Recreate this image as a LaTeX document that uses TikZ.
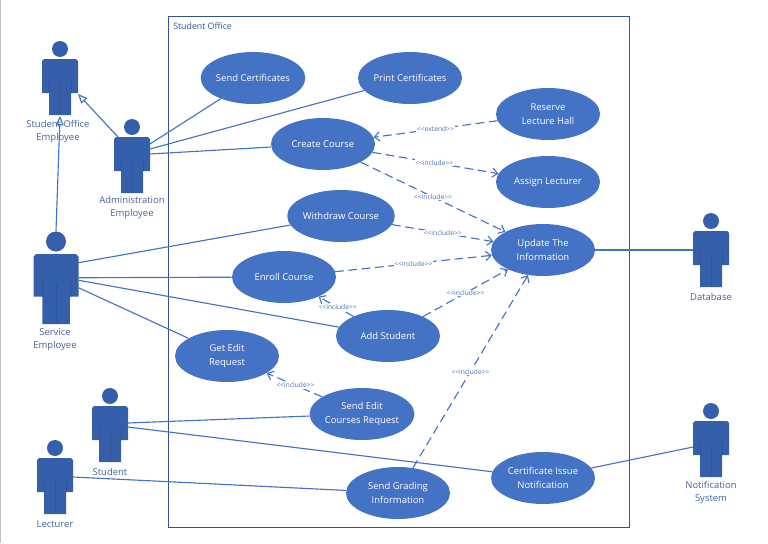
\documentclass[tikz,border=0pt]{standalone}
\usepackage{fontspec}
\setmainfont{Open Sans}
\usetikzlibrary{shapes.geometric, arrows.meta}
\definecolor{usecase}{HTML}{4472C4}
\definecolor{actorblue}{HTML}{355FAB}
\definecolor{actorseam}{HTML}{2F5597}
\definecolor{labelblue}{HTML}{44609C}
\newcommand\incl{<{}<include>{}>}
\newcommand\extd{<{}<extend>{}>}

\begin{document}
\begin{tikzpicture}[
    x=.75pt, y=-.75pt,
    actor/.pic = {
        \fill [actorblue] (0, -10) circle (8);
        \fill [actorblue]
            (-16, 0) -- (16, 0) -- (18, 2) -- (18, 34) -- (11, 34)
            -- (11, 56) -- (-11, 56) -- (-11, 34) -- (-18, 34) -- (-18, 2) -- cycle;
        \draw [actorseam, line width=.3pt] (0, 24) -- (0, 56);
        \draw [actorseam, line width=.3pt] (-11, 20) -- (-11, 34);
        \draw [actorseam, line width=.3pt] (11, 20) -- (11, 34);
        \foreach \i/\d in {1/7, 2/12, 3/17, 4/19, 5/21, 6/26, 7/27} {
            \coordinate (-r\i) at (18, \d);
        }
        \coordinate (-l) at (-18, 19);
        \coordinate (-t) at (0, -18);
        \coordinate (-b) at (0, 57);
        \coordinate (-s) at (-14, 0);
    },
    usecase/.style = {
        ellipse,
        fill=usecase,
        text=white,
        inner sep=0pt,
        minimum width=78pt,
        minimum height=39pt,
        align=center,
        font=\fontsize{7.1}{10}\selectfont,
    },
    actorname/.style = {
        text=labelblue,
        inner sep=0pt,
        align=center,
        font=\fontsize{7.1}{9.8}\selectfont,
    },
    assoc/.style = {
        draw=usecase,
        line width=.85pt,
    },
    gener/.style = {
        assoc,
        -{Triangle[open, fill=white, length=7pt, width=6pt]},
    },
    dep/.style = {
        assoc,
        dash pattern=on 6.5pt off 3.5pt,
        -{Straight Barb[length=4pt, width=7pt]},
    },
    deplabel/.style = {
        fill=white,
        text=usecase,
        inner sep=.6pt,
        font=\fontsize{5}{6}\selectfont,
    },
]
\useasboundingbox (0, 0) rectangle (768, 543);
\draw [black!25, line width=.8pt] (.5, 0) -- (.5, 543);
\node (office) [draw=actorseam, line width=.7pt, minimum width=345.75pt, minimum height=383.25pt, inner sep=0pt] at (398.5, 271.5) {};
\node (title) [anchor=west, inner sep=0pt, text=actorseam, font=\fontsize{6.6}{8}\selectfont] at (173, 26) {Student Office};

% use cases
\node (sendcert) [usecase] at (253, 78) {Send Certificates};
\node (printcert) [usecase] at (410, 78) {Print Certificates};
\node (reserve) [usecase] at (548, 114) {Reserve\\Lecture Hall};
\node (create) [usecase] at (323, 144) {Create Course};
\node (assign) [usecase] at (548, 182) {Assign Lecturer};
\node (withdraw) [usecase] at (341, 216) {Withdraw Course};
\node (update) [usecase] at (543, 250) {Update The\\Information};
\node (enroll) [usecase] at (284, 277) {Enroll Course};
\node (addstudent) [usecase] at (388, 336) {Add Student};
\node (getedit) [usecase] at (227, 356) {Get Edit\\Request};
\node (sendedit) [usecase] at (362, 414) {Send Edit\\Courses Request};
\node (certissue) [usecase] at (543, 478) {Certificate Issue\\Notification};
\node (grading) [usecase] at (398, 493) {Send Grading\\Information};

% actors
\pic (officeemp) at (60, 59) {actor};
\pic (admin) at (132, 137) {actor};
\pic (service) [scale=1.25] at (56, 254) {actor};
\pic (student) at (110, 406) {actor};
\pic (lecturer) at (55, 458) {actor};
\pic (database) at (711, 231) {actor};
\pic (notify) at (711, 421) {actor};

% associations
\path [gener] (admin-s) -- (officeemp-r2 |- 0, 94);
\path [gener] (service-t) -- (officeemp-b);
\path [assoc] (admin-r1) -- (sendcert);
\path [assoc] (admin-r2) -- (printcert);
\path [assoc] (admin-r3) -- (create);
\path [assoc] (service-r1) -- (withdraw);
\path [assoc] (service-r4) -- (enroll);
\path [assoc] (service-r5) -- (addstudent);
\path [assoc] (service-r7) -- (getedit);
\path [assoc] (student-r3) -- (sendedit);
\path [assoc] (student-r5) -- (certissue);
\path [assoc] (lecturer-r4) -- (grading);
\path [assoc] (update) -- (database-l);
\path [assoc] (notify-r6 -| notify-l) -- (certissue);

\node (officeemp-name) [actorname] at (58, 131.5) {Student Office\\Employee};
\node (admin-name) [actorname] at (132, 208) {Administration\\Employee};
\node (service-name) [actorname] at (55, 340) {Service\\Employee};
\node (student-name) [actorname] at (110, 472) {Student};
\node (lecturer-name) [actorname] at (55, 524) {Lecturer};
\node (database-name) [actorname] at (711, 297) {Database};
\node (notify-name) [actorname] at (711, 492.5) {Notification\\System};

% dependencies
\path [dep] (reserve) -- node (dep-extend) [deplabel, pos=.5] {\extd} (create);
\path [dep] (create) -- node (dep-assign) [deplabel, pos=.49] {\incl} (assign);
\path [dep] (create) -- node (dep-create) [deplabel, pos=.5] {\incl} (update);
\path [dep] (withdraw) -- node (dep-withdraw) [deplabel, pos=.5] {\incl} (update);
\path [dep] (enroll) -- node (dep-enroll) [deplabel, pos=.5] {\incl} (update);
\path [dep] (addstudent) -- node (dep-addenroll) [deplabel, pos=.45] {\incl} (enroll);
\path [dep] (addstudent) -- node (dep-addupdate) [deplabel, pos=.5] {\incl} (update);
\path [dep] (sendedit) -- node (dep-edit) [deplabel, pos=.48] {\incl} (getedit);
\path [dep] (grading) -- node (dep-grading) [deplabel, pos=.5] {\incl} (update);
\end{tikzpicture}
\end{document}
